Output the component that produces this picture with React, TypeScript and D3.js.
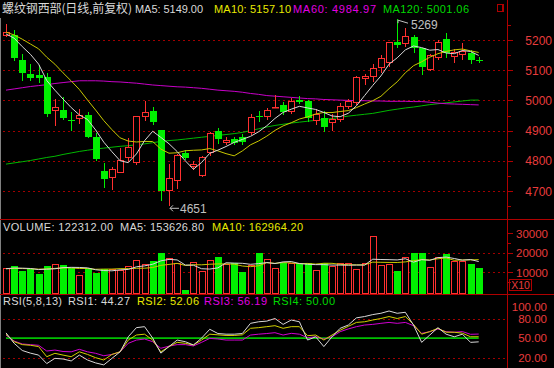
import React from 'react';
import * as d3 from 'd3';

const W = 554;
const H = 368;

const titleText = '螺纹钢西部(日线,前复权)';

const opens = [5213,5217,5134,5086,5084,5076,4965,4968,4935,4937,4952,4878,4766,4742,4759,4808,4794,4946,4966,4902,4701,4734,4827,4780,4750,4825,4900,4860,4871,4878,4891,4950,4946,4976,4985,4961,5001,4998,4932,4941,4925,4935,4979,4990,5071,5077,5106,5125,5194,5187,5211,5173,5101,5139,5202,5145,5150,5158,5133];
const highs = [5253,5233,5153,5120,5117,5090,5004,5010,4963,4970,4961,4891,4794,4780,4843,4874,4950,4999,4979,4902,4789,4822,4835,4800,4816,4896,4910,4880,4880,4888,4955,4966,4974,5017,4994,5009,5015,5000,4970,4965,4955,4992,5005,5080,5086,5120,5150,5195,5269,5239,5217,5175,5155,5200,5222,5169,5189,5167,5145];
const lows = [5210,5131,5064,5064,5057,4946,4915,4935,4899,4922,4874,4800,4709,4703,4759,4795,4787,4933,4920,4668,4651,4706,4802,4770,4748,4815,4856,4852,4852,4853,4885,4930,4935,4974,4951,4956,4987,4930,4920,4897,4900,4928,4970,4985,5051,5062,5090,5110,5172,5178,5156,5084,5098,5135,5139,5125,5134,5120,5125];
const closes = [5226,5139,5090,5073,5073,4954,4979,4943,4932,4952,4878,4805,4741,4774,4803,4847,4948,4961,4930,4701,4742,4819,4808,4790,4814,4893,4871,4869,4858,4863,4944,4947,4968,4979,4963,4998,4994,4941,4954,4913,4940,4982,4998,5078,5082,5108,5139,5193,5183,5213,5173,5112,5150,5194,5156,5161,5165,5134,5129];
const priorCloses = [5232,5232,5232,5232,5232,5210,5230,5200,5235];

const ma60 = [5034,5038,5042,5046,5049,5052,5056,5059,5062,5065,5065,5065,5064,5062,5061,5059,5057,5054,5051,5049,5047,5045,5044,5042,5040,5037,5034,5032,5030,5027,5023,5020,5016,5014,5012,5010,5008,5006,5005,5003,5002,5001,5000,4999,4999,4998,4998,4997,4997,4997,4996,4996,4994,4991,4989,4988,4987,4986,4985];
const ma120 = [4789,4793,4797,4801,4806,4811,4815,4821,4826,4831,4835,4839,4842,4845,4848,4850,4853,4856,4860,4864,4867,4869,4872,4875,4878,4881,4884,4887,4890,4894,4900,4906,4912,4917,4921,4925,4928,4931,4934,4937,4940,4944,4948,4951,4954,4957,4962,4967,4971,4975,4978,4982,4986,4989,4992,4995,4998,5001,5001];

const volumes = [121800,132000,106600,113700,88300,132000,142100,135500,121800,84800,121800,93400,115200,115200,110000,132000,160900,139000,157400,196400,169500,147200,8000,152300,106600,160900,177700,139000,144000,101500,135500,194900,166000,118800,144000,144000,144000,147200,110000,144000,132000,144000,144000,113700,144000,282700,135500,140600,106600,174600,195000,200000,123800,174600,190000,157400,157400,140600,122312];
const priorVolumes = [118000,112000,125000,108000,120000,115000,110000,122000,116000];

const rsi1 = [58,42,31,27,24,11,19,18,15,24,16.5,12,9,19,29,52,66,67.5,50,27,37,47,44.5,39.5,50,63.5,57,56,56,57,72.6,75,76,80,71,77.7,75,47,52,37,52,65,70,81,83,86,88,91.5,88,89.5,70,43.5,54.7,66,56,52,56,43.5,44.27];
const rsi2 = [55.8,44.5,40,39,37,21.5,26.7,24,21.5,29,25,20,16.5,25,29,47,54.7,56,47,29,37,43.5,42,39.5,47,56,55,54,54,55,65,66,67.5,69,65,67.5,67.5,53.7,54.7,47,54.7,62,68,74,75,77.7,80,83,80,83,71,56,60,65,59,59,57.5,52,52.06];
const rsi3 = [54.7,45.5,41,40,39,30.2,31.7,29.5,29,32.8,29,26.7,23,25,29,42,47,48.6,44.5,34.4,37.7,40,40,38,43.5,49.6,48.6,47,47,47,54.7,56,57,58.3,54.7,57.3,56,50.6,52,48.6,52,59.8,64,67.5,70,71,72.6,74,72.6,74,69,57.3,59.8,64,59.8,59,60,55.8,56.19];
const rsi4Level = 50;

// last readouts printed in the panel titles
const priceReadouts = [5149.0, 5157.1, 4984.97, 5001.06];
const volumeReadouts = [122312.0, 153626.8, 162964.2];
const rsiReadouts = [44.27, 52.06, 56.19, 50.0];

const priceTicks = [4700, 4800, 4900, 5000, 5100, 5200];
const volTicks = [100000, 200000, 300000];
const rsiTicks = [20, 50, 80, 100];

const C = {
  bg: '#000000',
  up: '#ff3030',
  down: '#00f000',
  grid: '#a00000',
  axis: '#b00000',
  axisText: '#e83c3c',
  white: '#d8d8d8',
  yellow: '#d8d800',
  magenta: '#e000e0',
  green: '#00d800',
  note: '#c0c0c0',
};

function movingAvg(values: number[], prior: number[], n: number): number[] {
  const all = [...prior, ...values];
  return values.map((_, i) => {
    const end = prior.length + i;
    return d3.mean(all.slice(end - n + 1, end + 1)) as number;
  });
}

const n = closes.length;
const x = d3.scaleLinear().domain([0, n - 1]).range([6, 478.7]);
const yP = d3.scaleLinear().domain([4700, 5200]).range([191, 40]);
const yV = d3.scaleLinear().domain([0, 300000]).range([291.5, 233]);
const yR = d3.scaleLinear().domain([20, 80]).range([357.7, 318.5]);

const ma5 = movingAvg(closes, priorCloses, 5);
const ma10 = movingAvg(closes, priorCloses, 10);
const vma5 = movingAvg(volumes, priorVolumes, 5);
const vma10 = movingAvg(volumes, priorVolumes, 10);

function linePath(vals: number[], sy: (v: number) => number): string {
  return d3.line<number>().x((_, i) => x(i)).y((v) => sy(v))(vals) || '';
}

const latin = 'Liberation Sans, Arial, sans-serif';

export default function App() {
  const hiIdx = d3.maxIndex(highs);
  const loIdx = d3.minIndex(lows);
  const hx = Math.round(x(hiIdx));
  const hy = yP(highs[hiIdx]);
  const lx = Math.round(x(loIdx));
  const ly = yP(lows[loIdx]);

  const minorPrice = d3.range(4650, 5251, 50).filter((p) => yP(p) > 20 && yP(p) < 216);
  const minorVol = d3.range(50000, 300001, 50000);

  return (
    <div style={{ position: 'absolute', left: 0, top: 0, width: W, height: H, background: C.bg }}>
      <style>{`body{margin:0;background:#000;}`}</style>
      <svg width={W} height={H} style={{ display: 'block', background: C.bg }}>
        <rect x={0} y={0} width={W} height={H} fill={C.bg} />

        {/* grid lines */}
        {priceTicks.map((p) => (
          <line key={'pg' + p} x1={3} x2={506} y1={Math.round(yP(p)) + 0.5} y2={Math.round(yP(p)) + 0.5}
            stroke={C.grid} strokeDasharray="2,3" />
        ))}
        {volTicks.slice(0, 2).map((v) => (
          <line key={'vg' + v} x1={3} x2={506} y1={Math.round(yV(v)) + 0.5} y2={Math.round(yV(v)) + 0.5}
            stroke={C.grid} strokeDasharray="2,3" />
        ))}
        {[20, 80].map((v) => (
          <line key={'rg' + v} x1={3} x2={506} y1={Math.round(yR(v)) + 0.5} y2={Math.round(yR(v)) + 0.5}
            stroke={C.grid} strokeDasharray="2,3" />
        ))}

        {/* frame */}
        <line x1={0.5} x2={0.5} y1={18} y2={H} stroke="#808080" />
        <line x1={0} x2={W} y1={219.5} y2={219.5} stroke={C.axis} />
        <line x1={0} x2={W} y1={294.5} y2={294.5} stroke={C.axis} />
        <line x1={507.5} x2={507.5} y1={0} y2={H} stroke={C.axis} />
        <rect x={497.5} y={4.5} width={6} height={7} fill="none" stroke={C.axis} />
        <line x1={502.5} x2={502.5} y1={4} y2={12} stroke={C.axis} />

        {/* moving averages main */}
        <path d={linePath(ma120, yP)} fill="none" stroke="#00b800" strokeWidth={1} />
        <path d={linePath(ma60, yP)} fill="none" stroke="#c800c8" strokeWidth={1} />

        {/* candles */}
        {closes.map((c, i) => {
          const o = opens[i];
          const up = c > o;
          const cx = Math.round(x(i));
          const top = Math.round(yP(Math.max(o, c)));
          const bot = Math.max(Math.round(yP(Math.min(o, c))), top + 1);
          const yh = Math.round(yP(highs[i]));
          const yl = Math.round(yP(lows[i]));
          if (up) {
            return (
              <g key={'c' + i}>
                <line x1={cx + 0.5} x2={cx + 0.5} y1={yh} y2={top} stroke={C.up} />
                <line x1={cx + 0.5} x2={cx + 0.5} y1={bot} y2={yl} stroke={C.up} />
                <rect x={cx - 2.5} y={top + 0.5} width={6} height={Math.max(bot - top - 1, 0.5)} fill={C.bg} stroke={C.up} />
              </g>
            );
          }
          return (
            <g key={'c' + i}>
              <line x1={cx + 0.5} x2={cx + 0.5} y1={yh} y2={yl} stroke={C.down} />
              <rect x={cx - 3} y={top} width={7} height={Math.max(bot - top, 1)} fill={C.down} />
            </g>
          );
        })}

        <path d={linePath(ma10, yP)} fill="none" stroke="#c8c800" strokeWidth={1} />
        <path d={linePath(ma5, yP)} fill="none" stroke={C.white} strokeWidth={1} />

        {/* high / low notes */}
        <line x1={hx + 1} y1={hy + 1} x2={hx + 11} y2={hy + 4} stroke={C.note} />
        <line x1={hx + 1} y1={hy + 1} x2={hx + 1} y2={hy + 4} stroke={C.note} />
        <text x={hx + 14} y={hy + 9.5} fill={C.note} fontSize={12} fontFamily={latin}>{String(highs[hiIdx])}</text>
        <line x1={lx + 1} y1={ly + 2.5} x2={lx + 10} y2={ly + 2.5} stroke={C.note} />
        <polyline points={`${lx + 4},${ly - 0.5} ${lx + 1},${ly + 2.5} ${lx + 4},${ly + 5.5}`} fill="none" stroke={C.note} />
        <text x={lx + 11} y={ly + 7} fill={C.note} fontSize={12} fontFamily={latin}>{String(lows[loIdx])}</text>

        {/* volume */}
        {volumes.map((v, i) => {
          const up = closes[i] > opens[i];
          const cx = Math.round(x(i));
          const top = Math.round(yV(v));
          const bot = 294;
          if (up) {
            return <rect key={'v' + i} x={cx - 2.5} y={top + 0.5} width={6} height={bot - top - 1} fill={C.bg} stroke={C.up} />;
          }
          return <rect key={'v' + i} x={cx - 3} y={top} width={7} height={bot - top} fill={C.down} />;
        })}
        <path d={linePath(vma10, yV)} fill="none" stroke="#c8c800" />
        <path d={linePath(vma5, yV)} fill="none" stroke={C.white} />

        {/* RSI */}
        <path d={linePath(closes.map(() => rsi4Level), yR)} fill="none" stroke="#00c000" strokeWidth={1.6} />
        <path d={linePath(rsi3, yR)} fill="none" stroke="#d000d0" />
        <path d={linePath(rsi2, yR)} fill="none" stroke="#d0d000" />
        <path d={linePath(rsi1, yR)} fill="none" stroke={C.white} />

        {/* right axis ticks & labels */}
        {minorPrice.map((p) => (
          <line key={'pt' + p} x1={508} x2={p % 100 === 0 ? 513 : 511} y1={Math.round(yP(p)) + 0.5} y2={Math.round(yP(p)) + 0.5} stroke={C.axis} />
        ))}
        {priceTicks.map((p) => (
          <text key={'pl' + p} x={552} y={yP(p) + 4.5} fill={C.axisText} fontSize={12} fontFamily={latin} textAnchor="end">{p}</text>
        ))}
        {minorVol.map((v) => (
          <line key={'vt' + v} x1={508} x2={v % 100000 === 0 ? 513 : 511} y1={Math.round(yV(v)) + 0.5} y2={Math.round(yV(v)) + 0.5} stroke={C.axis} />
        ))}
        {volTicks.map((v) => (
          <text key={'vl' + v} x={548} y={yV(v) + 4.5} fill={C.axisText} fontSize={11.5} fontFamily={latin} textAnchor="end">{v / 10}</text>
        ))}
        <rect x={509.5} y={279.5} width={22} height={11} fill="none" stroke={C.axis} />
        <text x={520.5} y={288.5} fill={C.axisText} fontSize={10.5} fontFamily={latin} textAnchor="middle">X10</text>
        {rsiTicks.map((v) => (
          <text key={'rl' + v} x={547} y={(v === 100 ? 306.7 : yR(v)) + 4} fill={C.axisText} fontSize={11.5} fontFamily={latin} textAnchor="end">{v.toFixed(2)}</text>
        ))}

        {/* headers */}
        <text x={2} y={13} fill={C.white} fontSize={12} fontFamily="Noto Sans CJK SC, sans-serif" textLength={130}>{titleText}</text>
        <text x={135} y={12.5} fill={C.white} fontSize={11} fontFamily={latin} textLength={68}>{`MA5: ${priceReadouts[0].toFixed(2)}`}</text>
        <text x={214} y={12.5} fill="#e8e800" fontSize={11} fontFamily={latin} textLength={77}>{`MA10: ${priceReadouts[1].toFixed(2)}`}</text>
        <text x={293} y={12.5} fill={C.magenta} fontSize={11} fontFamily={latin} textLength={83}>{`MA60: ${priceReadouts[2].toFixed(2)}`}</text>
        <text x={383} y={12.5} fill={C.green} fontSize={11} fontFamily={latin} textLength={86}>{`MA120: ${priceReadouts[3].toFixed(2)}`}</text>

        <text x={3} y={231} fill={C.white} fontSize={11} fontFamily={latin} textLength={110}>{`VOLUME: ${volumeReadouts[0].toFixed(2)}`}</text>
        <text x={120} y={231} fill={C.white} fontSize={11} fontFamily={latin} textLength={84}>{`MA5: ${volumeReadouts[1].toFixed(2)}`}</text>
        <text x={212} y={231} fill="#e8e800" fontSize={11} fontFamily={latin} textLength={91}>{`MA10: ${volumeReadouts[2].toFixed(2)}`}</text>

        <text x={3} y={305} fill={C.white} fontSize={11} fontFamily={latin} textLength={59}>RSI(5,8,13)</text>
        <text x={68} y={305} fill={C.white} fontSize={11} fontFamily={latin} textLength={62}>{`RSI1: ${rsiReadouts[0].toFixed(2)}`}</text>
        <text x={137} y={305} fill="#e8e800" fontSize={11} fontFamily={latin} textLength={62}>{`RSI2: ${rsiReadouts[1].toFixed(2)}`}</text>
        <text x={204} y={305} fill={C.magenta} fontSize={11} fontFamily={latin} textLength={63}>{`RSI3: ${rsiReadouts[2].toFixed(2)}`}</text>
        <text x={273} y={305} fill={C.green} fontSize={11} fontFamily={latin} textLength={62}>{`RSI4: ${rsiReadouts[3].toFixed(2)}`}</text>
      </svg>
    </div>
  );
}
